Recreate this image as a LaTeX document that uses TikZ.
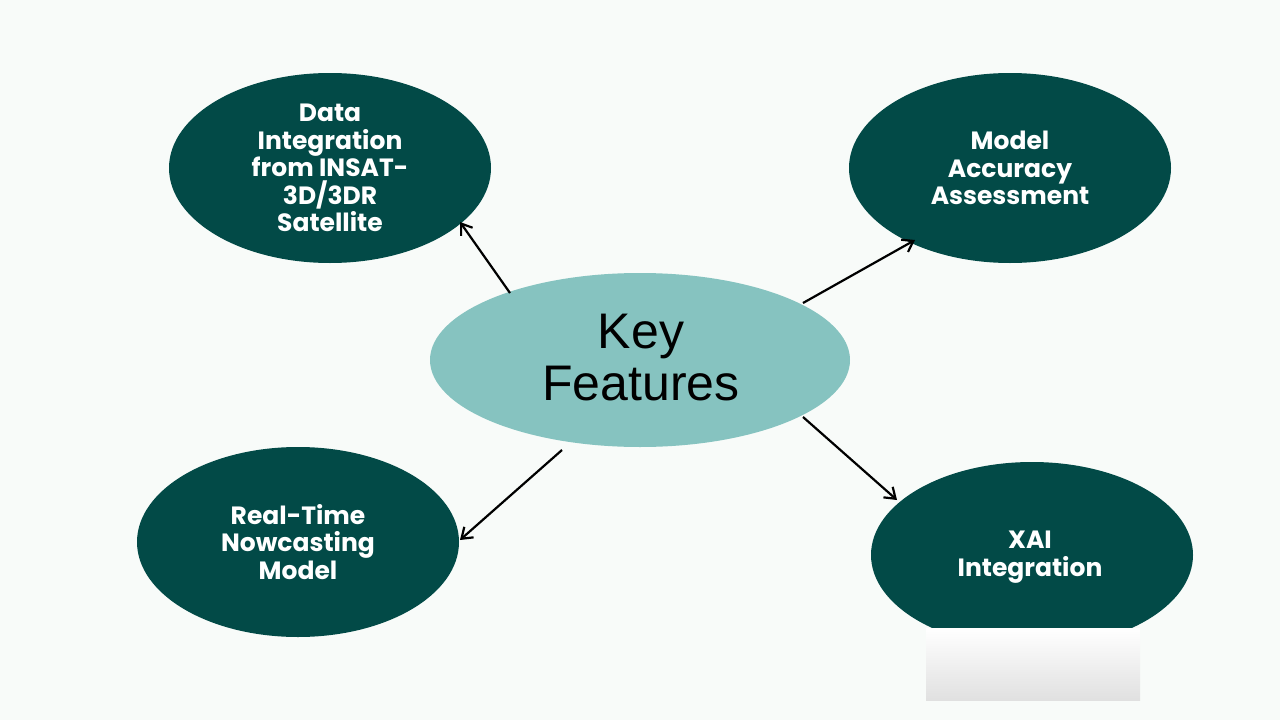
\documentclass[tikz,border=0pt]{standalone}
\usepackage{fontspec}
\setmainfont{Poppins}
\newfontfamily\keyfont{Liberation Sans}
\usetikzlibrary{arrows.meta}
\definecolor{dk}{HTML}{024A47}
\definecolor{lt}{HTML}{86C3C0}
\definecolor{bg}{HTML}{F8FBF9}
\begin{document}
\begin{tikzpicture}[x=1pt,y=-1pt,
  feat/.style={ellipse,fill=dk,text=white,font=\fontsize{25}{27}\selectfont\bfseries,align=center,inner sep=0pt},
  arr/.style={line width=2.2pt,-{Straight Barb[length=10pt,width=14pt,line width=2.2pt]}}]
\useasboundingbox[fill=bg] (0,0) rectangle (1280,720);
\fill[dk] (330,168) ellipse [x radius=161,y radius=95];
\node[text=white,font=\fontsize{25}{27.5}\selectfont\bfseries,align=center] (a) at (330,168) {Data\\Integration\\from INSAT-\\3D/3DR\\Satellite};
\fill[dk] (1010,168) ellipse [x radius=161,y radius=95];
\node[text=white,font=\fontsize{25}{27.5}\selectfont\bfseries,align=center] (b) at (1010,168) {Model\\Accuracy\\Assessment};
\fill[dk] (298,542) ellipse [x radius=161,y radius=95];
\node[text=white,font=\fontsize{25}{27.5}\selectfont\bfseries,align=center] (c) at (298,542) {Real-Time\\Nowcasting\\Model};
\fill[dk] (1032,555) ellipse [x radius=161,y radius=93];
\node[text=white,font=\fontsize{25}{27.5}\selectfont\bfseries,align=center] (d) at (1030,557) {XAI\\Integration};
\shade[top color=white,bottom color=white!88!black] (926,628) rectangle (1140,700);
\fill[lt] (640,360) ellipse [x radius=210,y radius=87];
\node[font=\keyfont\fontsize{50}{52}\selectfont,align=center] (k) at (641,358) {Key\\Features};
\coordinate (k1) at (510,293); \coordinate (a1) at (460,222);
\coordinate (k2) at (803,303); \coordinate (b1) at (915,240);
\coordinate (k3) at (562,450); \coordinate (c1) at (460,540);
\coordinate (k4) at (803,417); \coordinate (d1) at (897,500);
\draw[arr] (k1) -- (a1);
\draw[arr] (k2) -- (b1);
\draw[arr] (k3) -- (c1);
\draw[arr] (k4) -- (d1);
\end{tikzpicture}
\end{document}
